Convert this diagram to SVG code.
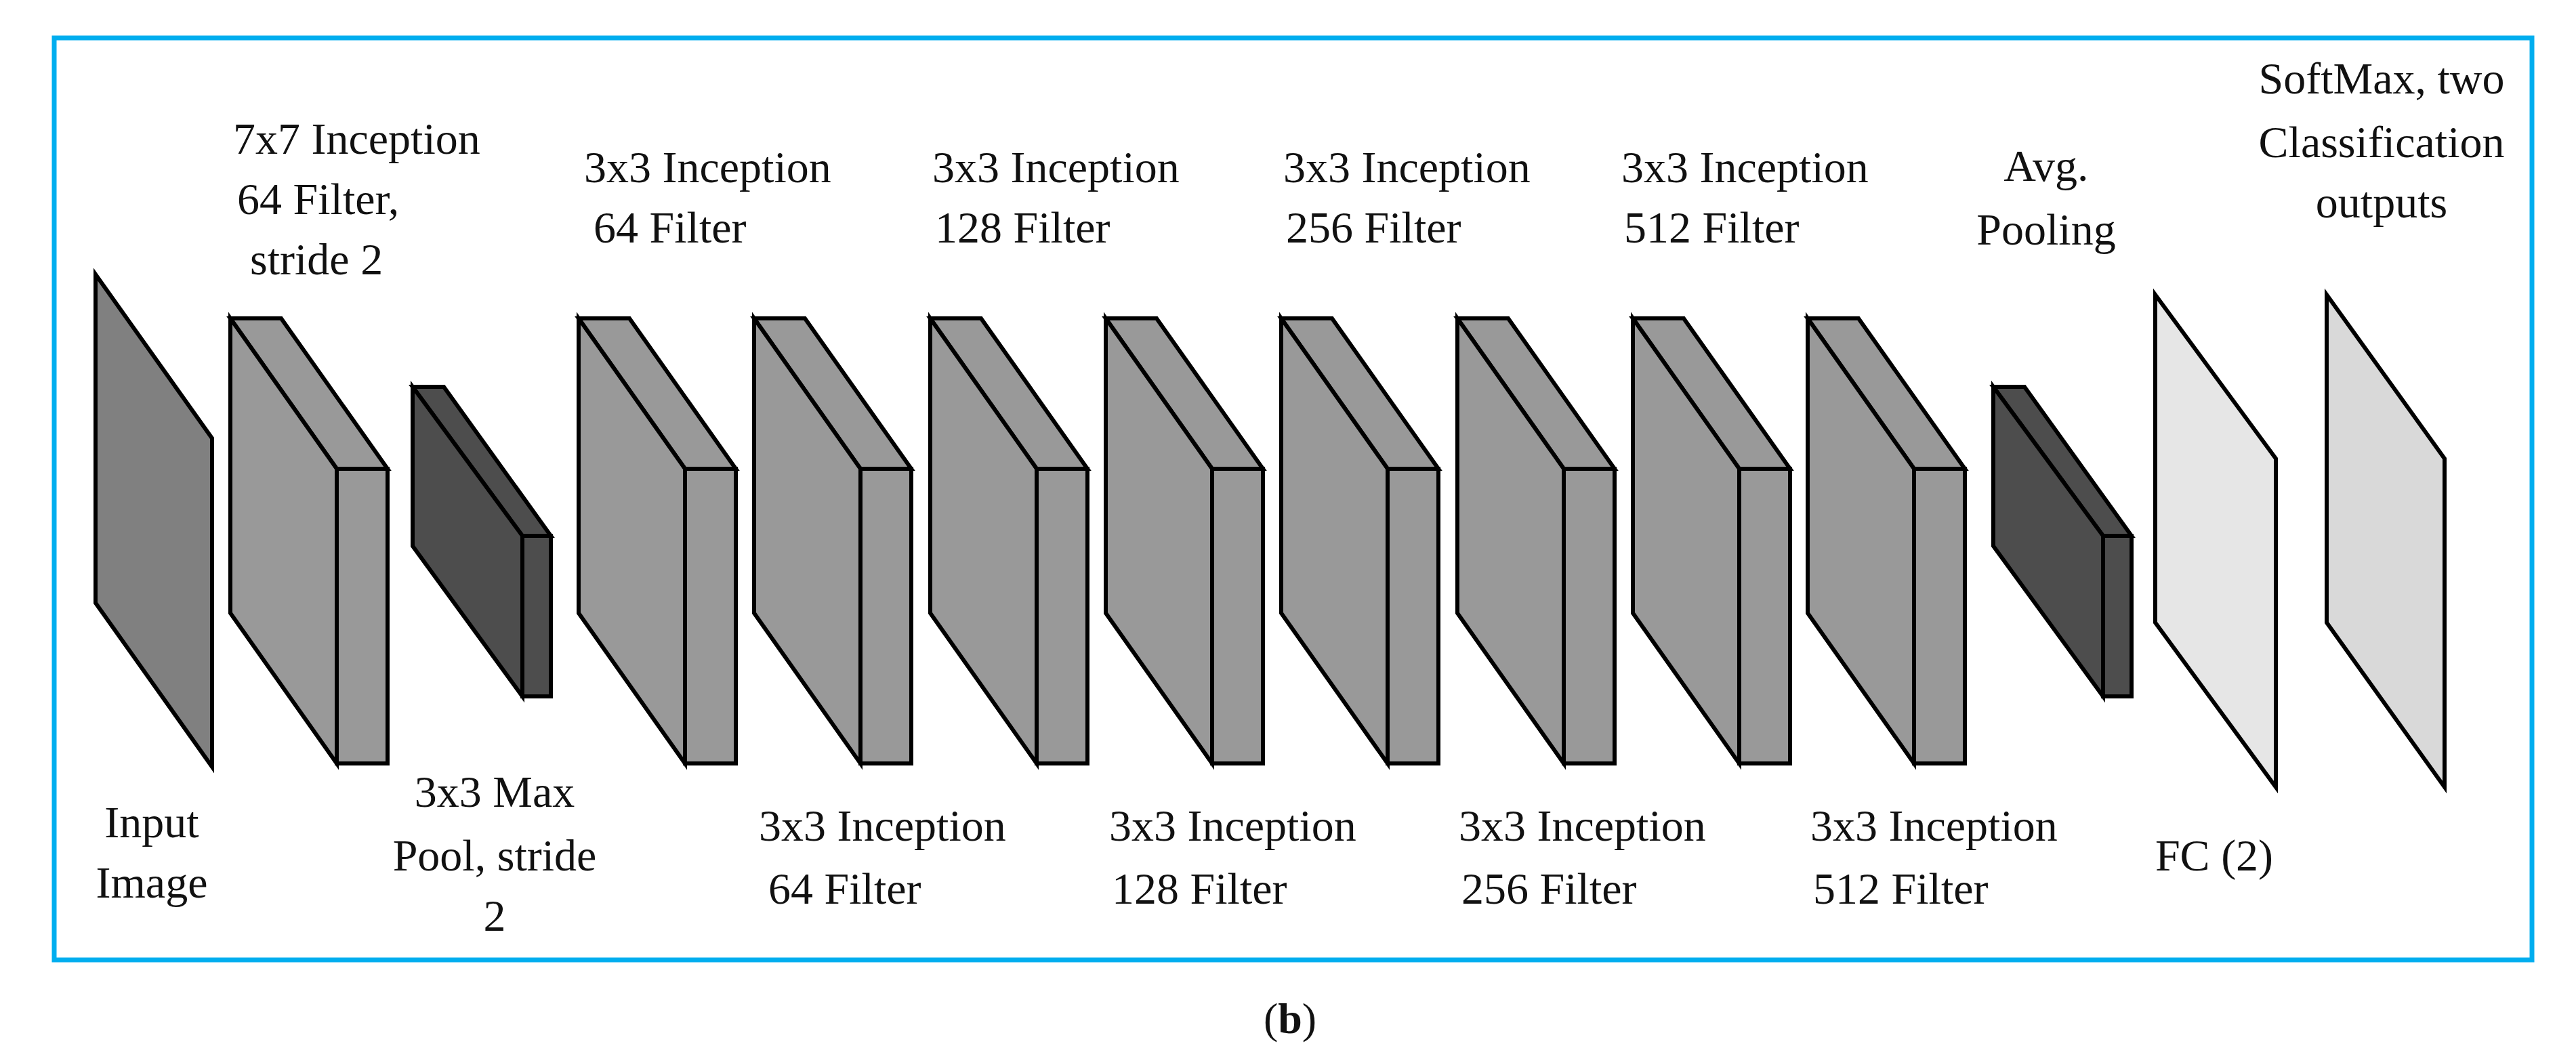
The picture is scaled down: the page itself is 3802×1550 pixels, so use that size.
<svg xmlns="http://www.w3.org/2000/svg" width="3802" height="1550" viewBox="0 0 3802 1550">
<style>
.t{font-family:"Liberation Serif","Times New Roman",serif;font-size:66px;fill:#111}
.c{text-anchor:middle}
.blk{fill:#999;stroke:#000;stroke-width:6;stroke-linejoin:miter}
.pool{fill:#4d4d4d;stroke:#000;stroke-width:6}
</style>
<defs>
<g id="box">
<path class="blk" d="M0,0 L75,0 L232,222 L157,222 Z"/>
<path class="blk" d="M0,0 L157,222 L157,657 L0,435 Z"/>
<rect class="blk" x="157" y="222" width="75" height="435"/>
</g>
<g id="pbox">
<path class="pool" d="M0,0 L46,0 L204,220 L162,220 Z"/>
<path class="pool" d="M0,0 L162,220 L162,457 L0,235 Z"/>
<rect class="pool" x="162" y="220" width="42" height="237"/>
</g>
</defs>
<rect x="0" y="0" width="3802" height="1550" fill="#fff"/>
<rect x="80" y="56" width="3657" height="1361" fill="none" stroke="#00aeef" stroke-width="7"/>
<g id="connectors"></g>
<g id="input"><path d="M141,405 L313,647 L313,1132 L141,890 Z" fill="#808080" stroke="#000" stroke-width="6"/>
<text class="t c" x="224" y="1236">Input</text><text class="t c" x="224" y="1325">Image</text></g>
<g id="conv7"><use href="#box" x="340" y="470"/>
<text class="t" x="344" y="227">7x7 Inception</text><text class="t" x="350" y="316">64 Filter,</text><text class="t" x="369" y="405">stride 2</text></g>
<g id="maxpool"><use href="#pbox" x="609" y="571"/>
<text class="t c" x="730" y="1191">3x3 Max</text><text class="t c" x="730" y="1285">Pool, stride</text><text class="t c" x="730" y="1374">2</text></g>
<g id="inc1"><use href="#box" x="854" y="470"/><text class="t" x="862" y="269">3x3 Inception</text><text class="t" x="876" y="358">64 Filter</text></g>
<g id="inc2"><use href="#box" x="1113" y="470"/><text class="t" x="1120" y="1241">3x3 Inception</text><text class="t" x="1134" y="1334">64 Filter</text></g>
<g id="inc3"><use href="#box" x="1373" y="470"/><text class="t" x="1376" y="269">3x3 Inception</text><text class="t" x="1380" y="358">128 Filter</text></g>
<g id="inc4"><use href="#box" x="1632" y="470"/><text class="t" x="1637" y="1241">3x3 Inception</text><text class="t" x="1641" y="1334">128 Filter</text></g>
<g id="inc5"><use href="#box" x="1891" y="470"/><text class="t" x="1894" y="269">3x3 Inception</text><text class="t" x="1898" y="358">256 Filter</text></g>
<g id="inc6"><use href="#box" x="2151" y="470"/><text class="t" x="2153" y="1241">3x3 Inception</text><text class="t" x="2157" y="1334">256 Filter</text></g>
<g id="inc7"><use href="#box" x="2410" y="470"/><text class="t" x="2393" y="269">3x3 Inception</text><text class="t" x="2397" y="358">512 Filter</text></g>
<g id="inc8"><use href="#box" x="2668" y="470"/><text class="t" x="2672" y="1241">3x3 Inception</text><text class="t" x="2676" y="1334">512 Filter</text></g>
<g id="avgpool"><use href="#pbox" x="2942" y="571"/>
<text class="t c" x="3020" y="267">Avg.</text><text class="t c" x="3020" y="361">Pooling</text></g>
<g id="fc"><path d="M3181,435 L3359,677 L3359,1162 L3181,919 Z" fill="#e6e6e6" stroke="#000" stroke-width="6"/>
<text class="t c" x="3268" y="1285">FC (2)</text></g>
<g id="softmax"><path d="M3434,435 L3608,677 L3608,1162 L3434,919 Z" fill="#d9d9d9" stroke="#000" stroke-width="6"/>
<text class="t c" x="3515" y="138">SoftMax, two</text><text class="t c" x="3515" y="232">Classification</text><text class="t c" x="3515" y="321">outputs</text></g>
<text class="t c" x="1904" y="1525" style="font-size:64px">(<tspan font-weight="bold">b</tspan>)</text>
</svg>
